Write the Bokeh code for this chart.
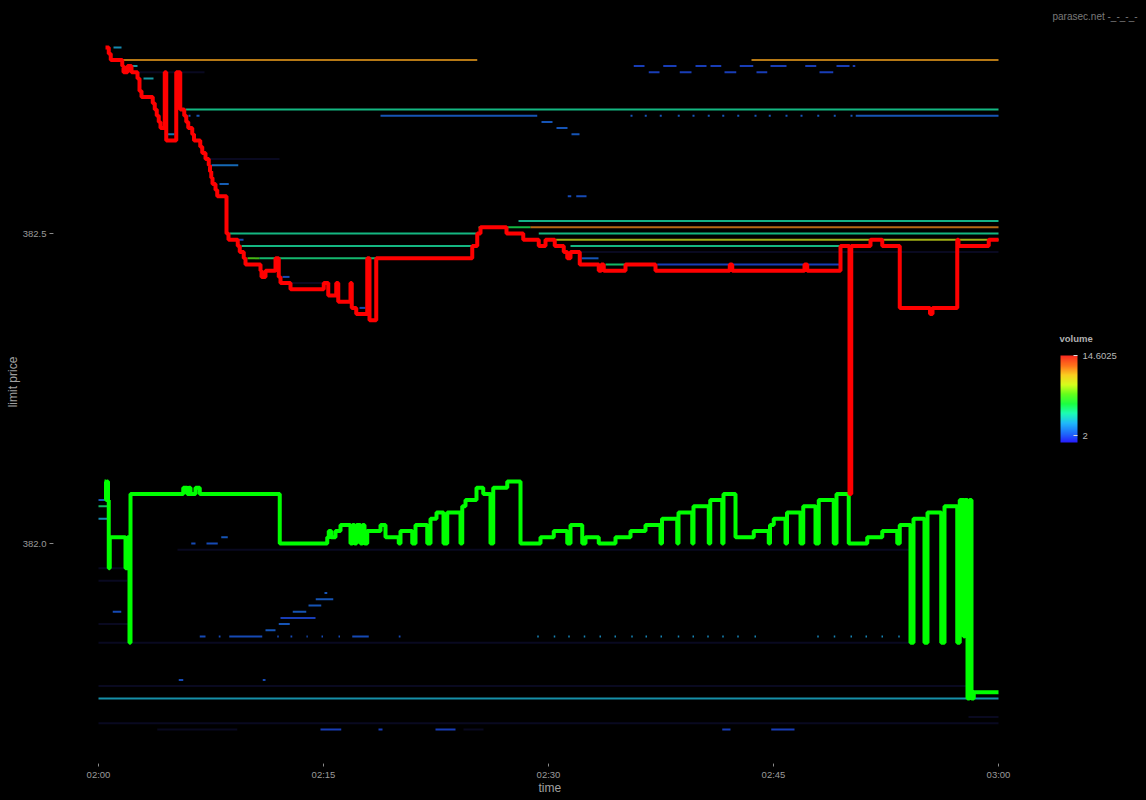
import numpy as np
import pandas as pd
from bokeh.plotting import figure
from bokeh.models import (ColumnDataSource, Range1d, FixedTicker, DatetimeTickFormatter,
                          NumeralTickFormatter, LogColorMapper, ColorBar, Label, BoxAnnotation,
                          Title)
from bokeh.transform import transform
from bokeh.embed import file_html
from bokeh.resources import INLINE

BASE = pd.Timestamp("2015-05-01 02:00:00")

# ---- best ask (red step line): seconds after 02:00, price ----
ask_sec = [28, 41, 49, 95, 100, 116, 132, 156, 164, 172, 217, 225, 233, 241, 248, 265, 271,
           311, 327, 343, 351, 359, 375, 382, 407, 415, 428, 441, 446, 451, 456, 468, 475,
           512, 520, 557, 565, 581, 588, 648, 652, 668, 708, 721, 728, 768, 901, 919, 951,
           959, 1008, 1013, 1031, 1075, 1084, 1111, 1495, 1515, 1528, 1632, 1699, 1761, 1788,
           1825, 1861, 1875, 1888, 1925, 2001, 2011, 2021, 2108, 2228, 2525, 2535, 2824, 2835,
           2968, 3004, 3011, 3088, 3135, 3205, 3326, 3336, 3435, 3440, 3561]
ask_price = [382.80, 382.79, 382.78, 382.77, 382.76, 382.77, 382.76, 382.75, 382.73, 382.72,
             382.71, 382.70, 382.69, 382.68, 382.67, 382.76, 382.65, 382.76, 382.70, 382.69,
             382.68, 382.67, 382.66, 382.65, 382.64, 382.63, 382.62, 382.61, 382.60, 382.59,
             382.58, 382.57, 382.56, 382.50, 382.49, 382.48, 382.47, 382.46, 382.45, 382.44,
             382.43, 382.44, 382.46, 382.43, 382.42, 382.41, 382.42, 382.40, 382.42, 382.39,
             382.42, 382.38, 382.37, 382.46, 382.36, 382.46, 382.48, 382.50, 382.51, 382.50,
             382.49, 382.48, 382.49, 382.48, 382.47, 382.46, 382.47, 382.45, 382.44, 382.45,
             382.44, 382.45, 382.44, 382.45, 382.44, 382.45, 382.44, 382.48, 382.08, 382.48,
             382.49, 382.48, 382.38, 382.37, 382.38, 382.49, 382.48, 382.49]

# ---- best bid (green step line) ----
bid_sec = [24, 30, 34, 38, 41, 45, 108, 116, 120, 124, 128, 339, 355, 361, 368, 388, 405,
           725, 915, 921, 931, 948, 968, 1008, 1016, 1024, 1032, 1048, 1056, 1064, 1075, 1128,
           1148, 1201, 1208, 1255, 1268, 1315, 1328, 1352, 1380, 1395, 1448, 1455, 1468, 1512,
           1539, 1568, 1579, 1635, 1688, 1768, 1821, 1875, 1888, 1935, 1948, 2001, 2068, 2128,
           2188, 2248, 2254, 2315, 2320, 2375, 2380, 2441, 2447, 2495, 2500, 2548, 2621, 2681,
           2686, 2701, 2748, 2754, 2808, 2819, 2868, 2881, 2941, 2952, 3001, 3075, 3135, 3195,
           3205, 3248, 3260, 3304, 3316, 3371, 3384, 3435, 3445, 3461, 3464, 3468, 3476, 3484,
           3492, 3501]
bid_price = [382.10, 382.07, 382.10, 382.07, 381.96, 382.01, 381.96, 382.01, 381.96, 381.84,
             382.08, 382.09, 382.08, 382.09, 382.08, 382.09, 382.08, 382.00, 382.01, 382.02,
             382.01, 382.02, 382.03, 382.00, 382.03, 382.00, 382.03, 382.00, 382.03, 382.00,
             382.02, 382.03, 382.01, 382.00, 382.02, 382.00, 382.03, 382.00, 382.04, 382.05,
             382.00, 382.05, 382.00, 382.06, 382.07, 382.09, 382.08, 382.00, 382.09, 382.10,
             382.00, 382.01, 382.02, 382.00, 382.03, 382.00, 382.01, 382.00, 382.01, 382.02,
             382.03, 382.00, 382.04, 382.00, 382.05, 382.00, 382.06, 382.00, 382.07, 382.00,
             382.08, 382.01, 382.02, 382.00, 382.03, 382.04, 382.00, 382.05, 382.00, 382.06,
             382.00, 382.07, 382.00, 382.08, 382.00, 382.01, 382.02, 382.00, 382.03, 381.84,
             382.04, 381.84, 382.05, 381.84, 382.06, 381.84, 382.07, 381.85, 382.07, 382.07,
             381.75, 382.07, 381.75, 381.76]

# ---- resting limit orders (price levels): start sec, end sec, price, volume ----
lvl_t0 = [95, 2612, 60, 132, 156, 180, 348, 360, 392, 1128,
          2128, 2185, 2245, 2317, 2376, 2437, 2495, 2555, 2624, 2681, 2748, 2808, 2875, 2941, 3008,
          3029, 1772, 1832, 1892,
          2141, 2259, 2388, 2448, 2565, 2688, 2827, 2952, 3017,
          2201, 2325, 2504, 2632, 2884,
          1877, 1911, 452, 436, 484, 525, 1761, 572, 1888, 596, 644, 1680, 1520, 1728, 1828,
          1924, 1932, 2028, 2235, 556, 736, 768, 1044, 276,
          0, 0, 0, 316, 371, 432, 491, 0, 0, 57, 0,
          405, 481, 523, 715, 768, 832, 892, 960, 1015, 1201,
          1755, 1821, 1879, 1941, 2004, 2064, 2131, 2188, 2248, 2317, 2376, 2435, 2495, 2555, 2624,
          2875, 2941, 3008, 3068, 3132, 3199,
          0, 668, 721, 728, 777, 840, 869, 904, 321, 657, 0, 0, 3480, 0,
          235, 888, 1120, 1348, 1460, 2495, 2691]
lvl_t1 = [1515, 3600, 92, 156, 424, 220, 3600, 368, 404, 1755,
          2136, 2193, 2253, 2325, 2384, 2445, 2503, 2563, 2632, 2689, 2756, 2816, 2883, 2949, 3016,
          3600, 1816, 1876, 1924,
          2184, 2312, 2432, 2491, 2619, 2752, 2871, 3004, 3027,
          2244, 2372, 2551, 2675, 2939,
          1891, 1952, 559, 724, 521, 1512, 3600, 1495, 2965, 644, 1112, 3600, 1728, 3600, 3600,
          3600, 2000, 2108, 2968, 580, 764, 928, 1068, 304,
          36, 36, 36, 3248, 388, 477, 517, 115, 115, 91, 120,
          428, 488, 655, 721, 775, 837, 898, 966, 1081, 1208,
          1761, 1827, 1885, 1947, 2010, 2070, 2137, 2194, 2254, 2323, 2382, 2441, 2501, 2561, 2630,
          2881, 2947, 3014, 3074, 3138, 3205,
          3256, 708, 765, 868, 831, 891, 939, 915, 339, 668, 3475, 3600, 3600, 3600,
          555, 971, 1136, 1428, 1540, 2528, 2784]
lvl_price = [382.78, 382.78, 382.80, 382.77, 382.76, 382.75, 382.70, 382.69, 382.69, 382.69,
             382.69, 382.69, 382.69, 382.69, 382.69, 382.69, 382.69, 382.69, 382.69, 382.69,
             382.69, 382.69, 382.69, 382.69, 382.69,
             382.69, 382.68, 382.67, 382.66,
             382.77, 382.77, 382.77, 382.77, 382.77, 382.77, 382.77, 382.77, 382.77,
             382.76, 382.76, 382.76, 382.76, 382.76,
             382.56, 382.56, 382.61, 382.62, 382.58, 382.50, 382.50, 382.48, 382.48, 382.46,
             382.46, 382.52, 382.51, 382.51, 382.49,
             382.47, 382.46, 382.45, 382.45, 382.49, 382.43, 382.42, 382.38, 382.66,
             382.07, 382.06, 382.04, 381.99, 382.00, 382.00, 382.01, 381.96, 381.94, 381.89, 381.87,
             381.85, 381.85, 381.85, 381.85, 381.85, 381.85, 381.85, 381.85, 381.85, 381.85,
             381.85, 381.85, 381.85, 381.85, 381.85, 381.85, 381.85, 381.85, 381.85, 381.85,
             381.85, 381.85, 381.85, 381.85, 381.85,
             381.85, 381.85, 381.85, 381.85, 381.85, 381.85,
             381.84, 381.86, 381.87, 381.88, 381.89, 381.90, 381.91, 381.92, 381.78, 381.78,
             381.77, 381.75, 381.72, 381.71,
             381.70, 381.70, 381.70, 381.70, 381.70, 381.70, 381.70]
lvl_vol = [10.0, 10.0, 2.8, 3.0, 1.0, 3.0, 3.5, 2.2, 2.2, 2.2,
           2.2, 2.2, 2.2, 2.2, 2.2, 2.2, 2.2, 2.2, 2.2, 2.2, 2.2, 2.2, 2.2, 2.2, 2.2,
           2.2, 2.2, 2.2, 2.2,
           2.0, 2.0, 2.0, 2.0, 2.0, 2.0, 2.0, 2.0, 2.0,
           2.0, 2.0, 2.0, 2.0, 2.0,
           2.1, 2.1, 2.4, 1.0, 2.3, 3.5, 3.5, 3.5, 3.5, 5.5, 3.7, 3.4, 4.2, 10.5, 7.5,
           1.0, 2.2, 3.8, 2.0, 2.1, 2.1, 1.0, 2.1, 2.6,
           2.2, 3.8, 2.8, 1.0, 2.1, 2.1, 2.2, 1.0, 1.0, 2.1, 1.0,
           2.1, 2.1, 2.1, 2.1, 2.1, 2.1, 2.1, 2.1, 2.1, 2.1,
           2.7, 2.7, 2.7, 2.7, 2.7, 2.7, 2.7, 2.7, 2.7, 2.7, 2.7, 2.7, 2.7, 2.7, 2.7,
           2.7, 2.7, 2.7, 2.7, 2.7, 2.7,
           1.0, 2.2, 2.2, 2.0, 2.2, 2.2, 2.2, 2.2, 2.1, 2.1, 1.0, 2.9, 1.0, 1.0,
           1.0, 2.0, 2.0, 2.0, 1.0, 2.0, 2.0]

vol_low, vol_high = 1.7, 14.6025
legend_ticks = [2, 14.6025]
palette_stops = ["#261cfd", "#1e71fb", "#1fb9fa", "#1cfdb4", "#1bfe42",
                 "#65fe1b", "#d6fd1c", "#facd1f", "#fe701b", "#f92b20"]


def interp_palette(stops, n=256):
    rgb = np.array([[int(c[i:i + 2], 16) for i in (1, 3, 5)] for c in stops], dtype=float)
    pos = np.linspace(0, 1, len(stops))
    t = np.linspace(0, 1, n)
    out = np.stack([np.interp(t, pos, rgb[:, k]) for k in range(3)], axis=1)
    return ["#%02x%02x%02x" % tuple(int(round(v)) for v in row) for row in out]


pal = interp_palette(palette_stops)


def to_time(secs):
    return BASE + pd.to_timedelta(np.asarray(secs, dtype=float), unit="s")


END = 3600
ask_t = to_time(list(ask_sec) + [END])
ask_y = list(ask_price) + [ask_price[-1]]
bid_t = to_time(list(bid_sec) + [END])
bid_y = list(bid_price) + [bid_price[-1]]

lvl_src = ColumnDataSource(dict(t0=to_time(lvl_t0), t1=to_time(lvl_t1),
                                price=lvl_price, volume=lvl_vol))

mapper = LogColorMapper(palette=pal, low=vol_low, high=vol_high, low_color="#0c0c2c")

# frame spans the whole black area to the right/top; the data sits where the reference panel is
x0 = BASE - pd.Timedelta(minutes=3)
x1 = BASE + pd.Timedelta(seconds=4180)
y0, y1 = 381.6452, 382.8758
FW, FH = 1090, 763

p = figure(frame_width=FW, frame_height=FH, output_backend="svg", toolbar_location=None,
           x_axis_type="datetime",
           x_range=Range1d(x0, x1), y_range=Range1d(y0, y1),
           background_fill_color="#000000", border_fill_color="#000000",
           outline_line_color="#000000",
           min_border_left=53, min_border_top=0, min_border_bottom=36, min_border_right=0)
p.outline_line_width = 4
p.grid.visible = False

p.segment(x0="t0", y0="price", x1="t1", y1="price", source=lvl_src,
          line_color=transform("volume", mapper), line_width=2, line_alpha=0.72)

p.step(bid_t, bid_y, mode="after", line_color="#00ff00", line_width=4)
p.step(ask_t, ask_y, mode="after", line_color="#ff0000", line_width=4)

# black edge mask over the frame border
p.add_layout(BoxAnnotation(left=x0, right=x1, bottom=y0, top=y1, fill_alpha=0,
                           line_color="#000000", line_width=4, level="overlay"))

tick_times = [BASE + pd.Timedelta(minutes=m) for m in (0, 15, 30, 45, 60)]
tick_ms = [(t - pd.Timestamp("1970-01-01")) // pd.Timedelta("1ms") for t in tick_times]
p.xaxis.ticker = FixedTicker(ticks=tick_ms)
fmt = "%H:%M"
p.xaxis.formatter = DatetimeTickFormatter(microseconds=fmt, milliseconds=fmt, seconds=fmt,
                                          minsec=fmt, minutes=fmt, hourmin=fmt, hours=fmt)
p.yaxis.ticker = FixedTicker(ticks=[382.0, 382.5])
p.yaxis.formatter = NumeralTickFormatter(format="0.0")

p.yaxis.axis_label = "limit price"
for ax in (p.xaxis, p.yaxis):
    ax.axis_line_color = None
    ax.major_tick_line_color = "#8a8a8a"
    ax.major_tick_in = 0
    ax.minor_tick_line_color = None
    ax.major_label_text_color = "#9a9a9a"
    ax.major_label_text_font = "Liberation Sans"
    ax.major_label_text_font_size = "9.5px"
    ax.axis_label_text_color = "#a0a0a0"
    ax.axis_label_text_font = "Liberation Sans"
    ax.axis_label_text_font_size = "12px"
    ax.axis_label_text_font_style = "normal"
p.xaxis.major_tick_out = 3
p.xaxis.major_label_standoff = 2
p.yaxis.major_tick_out = 4
p.yaxis.major_label_standoff = 3
p.yaxis.axis_label_standoff = 0

# x axis title, centred under the data panel (02:00-03:00) rather than the whole frame
p.add_layout(Title(text="time", align="left", offset=485, standoff=-7,
                   text_font_size="12px", text_color="#a0a0a0", text_font_style="normal",
                   text_font="Liberation Sans"), "below")

cb = ColorBar(color_mapper=mapper, ticker=FixedTicker(ticks=legend_ticks),
              major_label_overrides={2: "2", 14.6025: "14.6025"},
              orientation="vertical", width=17, height=87,
              major_label_text_color="#b8b8b8", major_label_text_font_size="9.5px",
              major_label_text_font="Liberation Sans", label_standoff=5,
              major_tick_line_color="#dddddd", major_tick_in=4, major_tick_out=0,
              bar_line_color=None, background_fill_color=None, padding=0,
              location=(1007, 321))
p.add_layout(cb)

p.add_layout(Label(x=1006, y=425, x_units="screen", y_units="screen", text="volume",
                   text_color="#b0b0b0", text_font_size="9.5px", text_font_style="bold",
                   text_font="Liberation Sans", text_baseline="middle"))

p.add_layout(Label(x=999, y=747, x_units="screen", y_units="screen",
                   text="parasec.net -_-_-_-", text_color="#7a7a7a", text_font_size="10px",
                   text_font="Liberation Sans", text_baseline="middle"))

html = file_html(p, INLINE)
html = html.replace("<body>", '<body style="background-color:#000000;">', 1)
html = html.replace("</head>",
                    "<style>html, body { background-color: #000000 !important; "
                    "margin: 0; padding: 0; overflow: hidden; outline: none; }</style></head>", 1)
open("out.html", "w").write(html)
